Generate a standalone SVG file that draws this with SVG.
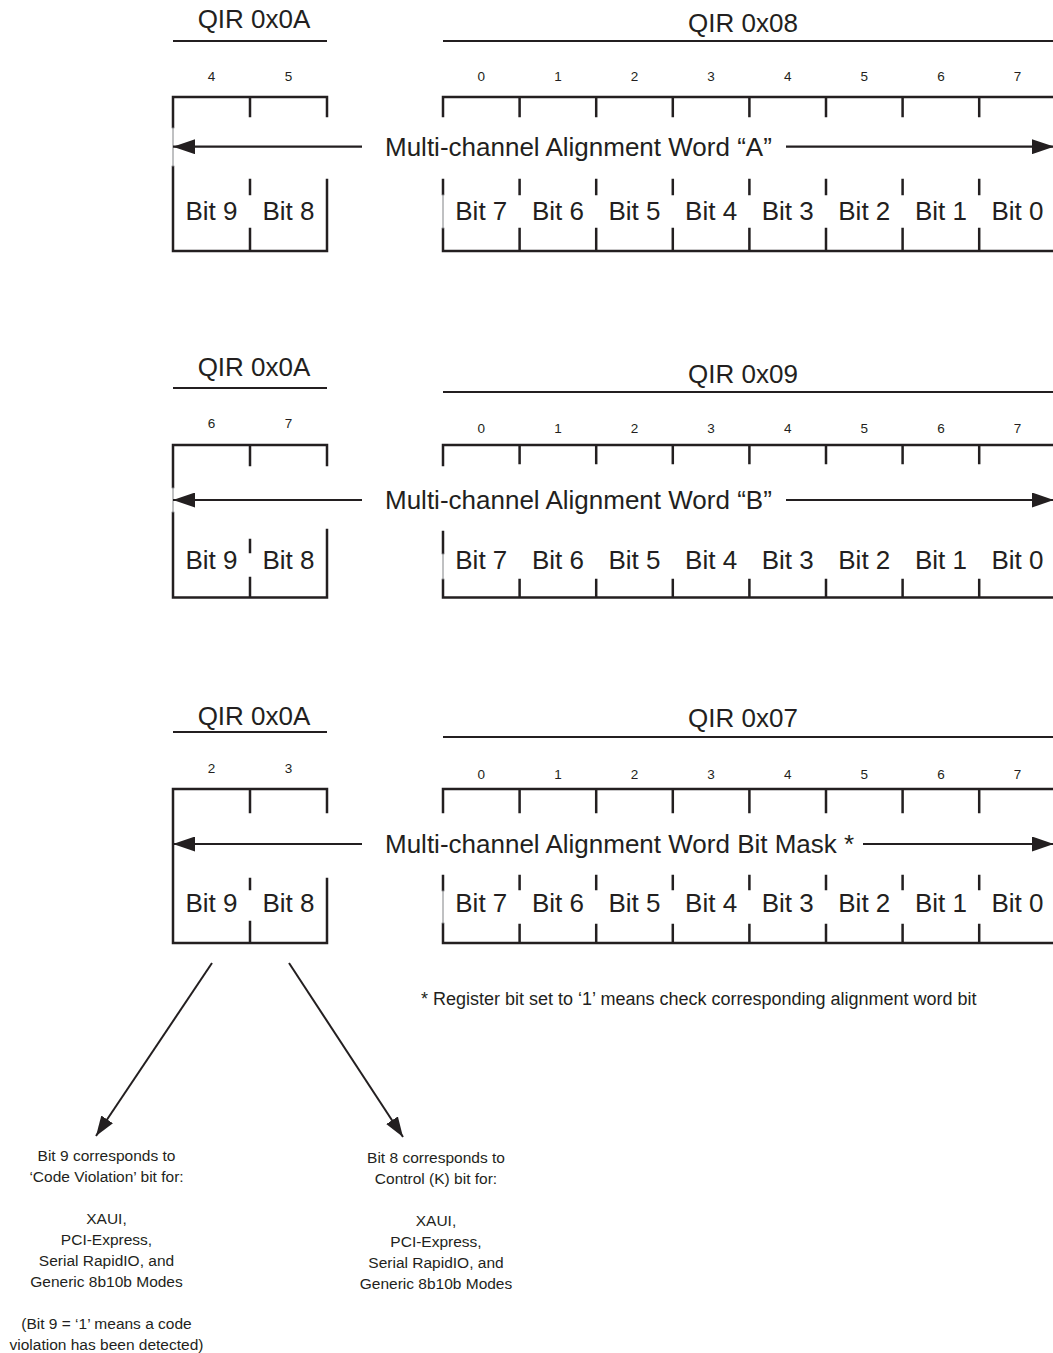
<svg xmlns="http://www.w3.org/2000/svg" width="1053" height="1353" viewBox="0 0 1053 1353">
<style>
  text { font-family: "Liberation Sans", Arial, Helvetica, sans-serif; fill: #231f20; }
  .big { font-size: 26px; }
  .hdr { font-size: 26px; text-anchor: middle; }
  .bit { font-size: 26px; text-anchor: middle; }
  .num { font-size: 13.5px; text-anchor: middle; }
  .note { font-size: 15.5px; text-anchor: middle; }
  .foot { font-size: 18px; }
  .k { stroke: #231f20; stroke-width: 2.5; fill: none; stroke-linecap: square; }
  .h { stroke: #231f20; stroke-width: 2.2; fill: none; }
  .t { stroke: #808285; stroke-width: 1; fill: none; }
  .a { stroke: #231f20; stroke-width: 2.2; fill: none; marker-end: url(#ah); }
  .d { stroke: #231f20; stroke-width: 2; fill: none; marker-end: url(#ahd); }
</style>
<defs>
  <marker id="ah" markerUnits="userSpaceOnUse" markerWidth="22" markerHeight="15" refX="22" refY="7.5" orient="auto">
    <path d="M0,0 L22,7.5 L0,15 Z" fill="#231f20"/>
  </marker>
  <marker id="ahd" markerUnits="userSpaceOnUse" markerWidth="20" markerHeight="14" refX="20" refY="7" orient="auto">
    <path d="M0,0 L20,7 L0,14 Z" fill="#231f20"/>
  </marker>
</defs>

<!-- Diagram 1 -->
<g id="d1-left">
  <text class="hdr" x="254" y="28">QIR 0x0A</text>
  <path class="h" d="M173,41 H327"/>
  <text class="num" x="211.5" y="81">4</text>
  <text class="num" x="288.5" y="81">5</text>
  <path class="k" d="M173,97 H327 M173,251 H327 M173,97 V127 M173,167 V251 M250,97 V116 M250,180 V194 M250,229 V251 M327,97 V116 M327,180 V251"/>
  <path class="t" d="M173,127 V167"/>
  <text class="bit" x="211.5" y="220">Bit 9</text>
  <text class="bit" x="288.5" y="220">Bit 8</text>
</g>
<g id="d1-right">
  <text class="hdr" x="743" y="32">QIR 0x08</text>
  <path class="h" d="M443,41 H1053"/>
  <text class="num" x="481.3" y="81">0</text>
  <text class="num" x="557.9" y="81">1</text>
  <text class="num" x="634.5" y="81">2</text>
  <text class="num" x="711.1" y="81">3</text>
  <text class="num" x="787.7" y="81">4</text>
  <text class="num" x="864.3" y="81">5</text>
  <text class="num" x="940.9" y="81">6</text>
  <text class="num" x="1017.5" y="81">7</text>
  <path class="k" d="M443,97 H1053 M443,251 H1053 M443,97 V116 M443,180 V194 M443,229 V251
    M519.6,97 V116 M519.6,180 V194 M519.6,229 V251
    M596.2,97 V116 M596.2,180 V194 M596.2,229 V251
    M672.8,97 V116 M672.8,180 V194 M672.8,229 V251
    M749.4,97 V116 M749.4,180 V194 M749.4,229 V251
    M826,97 V116 M826,180 V194 M826,229 V251
    M902.6,97 V116 M902.6,180 V194 M902.6,229 V251
    M979.2,97 V116 M979.2,180 V194 M979.2,229 V251"/>
  <path class="t" d="M443,194 V229"/>
  <text class="bit" x="481.3" y="220">Bit 7</text>
  <text class="bit" x="557.9" y="220">Bit 6</text>
  <text class="bit" x="634.5" y="220">Bit 5</text>
  <text class="bit" x="711.1" y="220">Bit 4</text>
  <text class="bit" x="787.7" y="220">Bit 3</text>
  <text class="bit" x="864.3" y="220">Bit 2</text>
  <text class="bit" x="940.9" y="220">Bit 1</text>
  <text class="bit" x="1017.5" y="220">Bit 0</text>
</g>
<g id="d1-label">
  <text class="big" x="385" y="155.5">Multi-channel Alignment Word “A”</text>
</g>

<!-- Diagram 2 -->
<g id="d2-left">
  <text class="hdr" x="254" y="376">QIR 0x0A</text>
  <path class="h" d="M173,388 H327"/>
  <text class="num" x="211.5" y="427.5">6</text>
  <text class="num" x="288.5" y="427.5">7</text>
  <path class="k" d="M173,445 H327 M173,597.5 H327 M173,445 V487 M173,513 V597.5 M250,445 V465 M250,540 V552 M250,578 V597.5 M327,445 V465 M327,530 V597.5"/>
  <path class="t" d="M173,487 V513"/>
  <text class="bit" x="211.5" y="569">Bit 9</text>
  <text class="bit" x="288.5" y="569">Bit 8</text>
</g>
<g id="d2-right">
  <text class="hdr" x="743" y="383">QIR 0x09</text>
  <path class="h" d="M443,392 H1053"/>
  <text class="num" x="481.3" y="432.5">0</text>
  <text class="num" x="557.9" y="432.5">1</text>
  <text class="num" x="634.5" y="432.5">2</text>
  <text class="num" x="711.1" y="432.5">3</text>
  <text class="num" x="787.7" y="432.5">4</text>
  <text class="num" x="864.3" y="432.5">5</text>
  <text class="num" x="940.9" y="432.5">6</text>
  <text class="num" x="1017.5" y="432.5">7</text>
  <path class="k" d="M443,445 H1053 M443,597.5 H1053 M443,445 V465 M443,532 V553 M443,580 V597.5
    M519.6,445 V463 M519.6,580 V597.5
    M596.2,445 V463 M596.2,580 V597.5
    M672.8,445 V463 M672.8,580 V597.5
    M749.4,445 V463 M749.4,580 V597.5
    M826,445 V463 M826,580 V597.5
    M902.6,445 V463 M902.6,580 V597.5
    M979.2,445 V463 M979.2,580 V597.5"/>
  <path class="t" d="M443,553 V580"/>
  <text class="bit" x="481.3" y="569">Bit 7</text>
  <text class="bit" x="557.9" y="569">Bit 6</text>
  <text class="bit" x="634.5" y="569">Bit 5</text>
  <text class="bit" x="711.1" y="569">Bit 4</text>
  <text class="bit" x="787.7" y="569">Bit 3</text>
  <text class="bit" x="864.3" y="569">Bit 2</text>
  <text class="bit" x="940.9" y="569">Bit 1</text>
  <text class="bit" x="1017.5" y="569">Bit 0</text>
</g>
<g id="d2-label">
  <text class="big" x="385" y="509">Multi-channel Alignment Word “B”</text>
</g>

<!-- Diagram 3 -->
<g id="d3-left">
  <text class="hdr" x="254" y="725">QIR 0x0A</text>
  <path class="h" d="M173,732 H327"/>
  <text class="num" x="211.5" y="773">2</text>
  <text class="num" x="288.5" y="773">3</text>
  <path class="k" d="M173,789 H327 M173,943 H327 M173,789 V943 M250,789 V812 M250,879 V889 M250,922 V943 M327,789 V812 M327,879 V943"/>
  <text class="bit" x="211.5" y="912">Bit 9</text>
  <text class="bit" x="288.5" y="912">Bit 8</text>
</g>
<g id="d3-right">
  <text class="hdr" x="743" y="727">QIR 0x07</text>
  <path class="h" d="M443,737 H1053"/>
  <text class="num" x="481.3" y="779">0</text>
  <text class="num" x="557.9" y="779">1</text>
  <text class="num" x="634.5" y="779">2</text>
  <text class="num" x="711.1" y="779">3</text>
  <text class="num" x="787.7" y="779">4</text>
  <text class="num" x="864.3" y="779">5</text>
  <text class="num" x="940.9" y="779">6</text>
  <text class="num" x="1017.5" y="779">7</text>
  <path class="k" d="M443,789 H1053 M443,943 H1053 M443,789 V812 M443,876 V890 M443,924 V943
    M519.6,789 V812 M519.6,876 V889 M519.6,925 V943
    M596.2,789 V812 M596.2,876 V889 M596.2,925 V943
    M672.8,789 V812 M672.8,876 V889 M672.8,925 V943
    M749.4,789 V812 M749.4,876 V889 M749.4,925 V943
    M826,789 V812 M826,876 V889 M826,925 V943
    M902.6,789 V812 M902.6,876 V889 M902.6,925 V943
    M979.2,789 V812 M979.2,876 V889 M979.2,925 V943"/>
  <path class="t" d="M443,890 V924"/>
  <text class="bit" x="481.3" y="912">Bit 7</text>
  <text class="bit" x="557.9" y="912">Bit 6</text>
  <text class="bit" x="634.5" y="912">Bit 5</text>
  <text class="bit" x="711.1" y="912">Bit 4</text>
  <text class="bit" x="787.7" y="912">Bit 3</text>
  <text class="bit" x="864.3" y="912">Bit 2</text>
  <text class="bit" x="940.9" y="912">Bit 1</text>
  <text class="bit" x="1017.5" y="912">Bit 0</text>
</g>
<g id="d3-label">
  <text class="big" x="385" y="852.5">Multi-channel Alignment Word Bit Mask *</text>
</g>

<g id="footnote">
  <text class="foot" x="421" y="1005">* Register bit set to ‘1’ means check corresponding alignment word bit</text>
</g>

<g id="note-bit9">
  <text class="note" x="106.5" y="1161">Bit 9 corresponds to</text>
  <text class="note" x="106.5" y="1182">‘Code Violation’ bit for:</text>
  <text class="note" x="106.5" y="1224">XAUI,</text>
  <text class="note" x="106.5" y="1245">PCI-Express,</text>
  <text class="note" x="106.5" y="1266">Serial RapidIO, and</text>
  <text class="note" x="106.5" y="1287">Generic 8b10b Modes</text>
  <text class="note" x="106.5" y="1329">(Bit 9 = ‘1’ means a code</text>
  <text class="note" x="106.5" y="1350">violation has been detected)</text>
</g>
<g id="note-bit8">
  <text class="note" x="436" y="1163">Bit 8 corresponds to</text>
  <text class="note" x="436" y="1184">Control (K) bit for:</text>
  <text class="note" x="436" y="1226">XAUI,</text>
  <text class="note" x="436" y="1247">PCI-Express,</text>
  <text class="note" x="436" y="1268">Serial RapidIO, and</text>
  <text class="note" x="436" y="1289">Generic 8b10b Modes</text>
</g>

<g id="connectors">
  <path class="a" d="M362,146.7 H173"/>
  <path class="a" d="M786,146.7 H1054"/>
  <path class="a" d="M362,500 H173"/>
  <path class="a" d="M786,500 H1054"/>
  <path class="a" d="M362,844 H173"/>
  <path class="a" d="M863,844 H1054"/>
  <path class="d" d="M212,963 L96,1136"/>
  <path class="d" d="M289,963 L403,1137"/>
</g>
</svg>
